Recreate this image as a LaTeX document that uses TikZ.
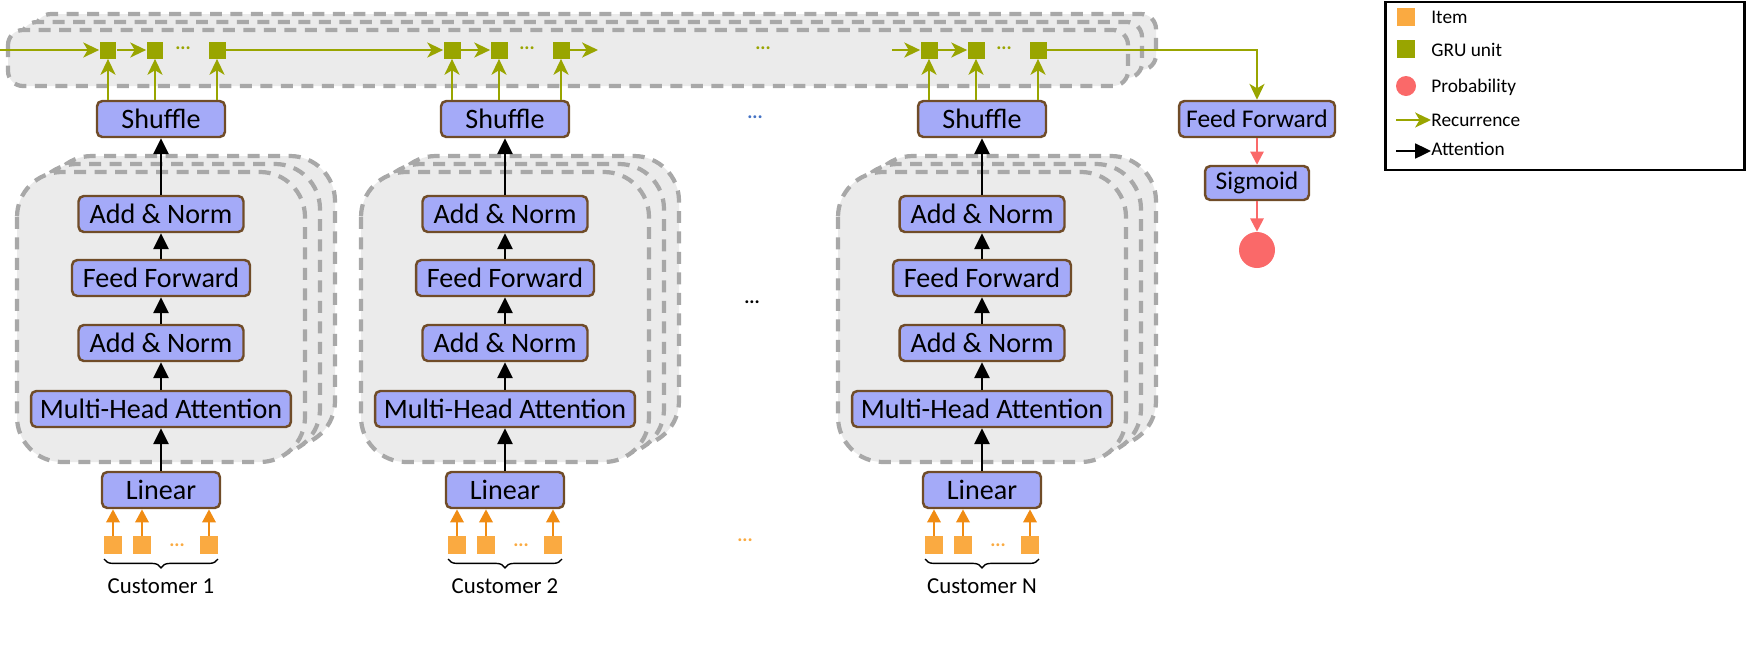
\documentclass[tikz,border=0pt]{standalone}
\usepackage{fontspec}
\setmainfont{Carlito}
\usetikzlibrary{positioning}
\usetikzlibrary{calc}
\usetikzlibrary{arrows.meta}
\usetikzlibrary{decorations.pathreplacing}

\definecolor{blkfill}{RGB}{164,170,248}
\definecolor{blkedge}{RGB}{112,76,40}
\definecolor{stackfill}{RGB}{235,235,235}
\definecolor{stackedge}{RGB}{168,168,168}
\definecolor{gruc}{RGB}{153,165,0}
\definecolor{itemc}{RGB}{250,170,65}
\definecolor{itemarr}{RGB}{240,140,20}
\definecolor{probc}{RGB}{250,105,105}
\definecolor{dotblue}{RGB}{68,114,196}

\tikzset{
	blk/.style={draw=blkedge, fill=blkfill, line width=1.4pt, rounded corners=3pt, minimum height=0.72cm, inner sep=0pt, font=\fontsize{16}{18}\selectfont},
	stackframe/.style={draw=stackedge, fill=stackfill, line width=2.4pt, dash pattern=on 0.24cm off 0.17cm, rounded corners=0.9cm},
	bandframe/.style={stackframe, rounded corners=0.3cm},
	gru/.style={fill=gruc, minimum size=0.34cm, inner sep=0pt},
	item/.style={fill=itemc, minimum size=0.36cm, inner sep=0pt},
	att/.style={-{Triangle[length=9pt,width=8.5pt]}, line width=1.4pt},
	rec/.style={-{Stealth[length=9pt,width=8.5pt,inset=2.5pt]}, draw=gruc, line width=1.5pt},
	itarr/.style={-{Triangle[length=7.5pt,width=7.5pt]}, draw=itemarr, line width=1.6pt},
	prarr/.style={-{Triangle[length=7.5pt,width=7.5pt]}, draw=probc, line width=1.2pt},
	dots/.style={inner sep=0pt, font=\fontsize{11}{11}\selectfont\bfseries},
	legtext/.style={anchor=west, inner sep=0pt, font=\fontsize{11}{13}\selectfont}
}

\begin{document}
\begin{tikzpicture}[x=0.02cm, y=-0.02cm]
	\useasboundingbox (0,0) rectangle (1749,664);
	% GRU band
	\draw[bandframe] (36,14) rectangle (1156,70);
	\draw[bandframe] (22,22) rectangle (1142,78);
	\draw[bandframe] (8,30) rectangle (1128,86);

	\foreach \c/\cx in {1/161, 2/505, N/982} {
		\draw[stackframe] (\cx-114,156) rectangle (\cx+174,446);
		\draw[stackframe] (\cx-129,164) rectangle (\cx+159,454);
		\draw[stackframe] (\cx-144,172) rectangle (\cx+144,462);
		\node[blk, minimum width=2.56cm] (sh\c) at (\cx,119) {Shuffle};
		\node[blk, minimum width=3.3cm] (an2\c) at (\cx,214) {Add \& Norm};
		\node[blk, minimum width=3.56cm] (ff\c) at (\cx,278) {Feed Forward};
		\node[blk, minimum width=3.3cm] (an1\c) at (\cx,343) {Add \& Norm};
		\node[blk, minimum width=5.2cm] (mha\c) at (\cx,409) {Multi-Head Attention};
		\node[blk, minimum width=2.36cm] (lin\c) at (\cx,490) {Linear};
		\draw[att] (lin\c) -- (mha\c); \draw[att] (mha\c) -- (an1\c); \draw[att] (an1\c) -- (ff\c);
		\draw[att] (ff\c) -- (an2\c); \draw[att] (an2\c) -- (sh\c);
		% items
		\node[item] (ia\c) at (\cx-48,545) {};
		\node[item] (ib\c) at (\cx-19,545) {};
		\node[item] (ic\c) at (\cx+48,545) {};
		\node[dots, text=itemc] (id\c) at (\cx+16,545) {...};
		\draw[itarr] (ia\c) -- (ia\c |- lin\c.south); \draw[itarr] (ib\c) -- (ib\c |- lin\c.south); \draw[itarr] (ic\c) -- (ic\c |- lin\c.south);
		\draw[decorate, decoration={brace, mirror, amplitude=5pt}, line width=0.8pt] (\cx-57,559) -- (\cx+57,559);
		\node[font=\fontsize{13}{15}\selectfont] (cu\c) at (\cx,586) {Customer \c};
		% GRU units
		\node[gru] (ga\c) at (\cx-53,50) {};
		\node[gru] (gb\c) at (\cx-6,50) {};
		\node[gru] (gc\c) at (\cx+56,50) {};
		\node[dots, text=gruc] (gd\c) at (\cx+22,48) {...};
		\draw[rec] (ga\c |- sh\c.north) -- (ga\c); \draw[rec] (gb\c |- sh\c.north) -- (gb\c); \draw[rec] (gc\c |- sh\c.north) -- (gc\c);
		\draw[rec] (ga\c) -- (gb\c);
	}

	% recurrence between customers
	\coordinate (in1) at (0,50);
	\coordinate (out2) at (598,50);
	\coordinate (inN) at (892,50);
	\draw[rec] (in1) -- (ga1);
	\draw[rec] (gc1) -- (ga2);
	\draw[rec] (gc2) -- (out2);
	\draw[rec] (inN) -- (gaN);
	\node[dots, text=gruc] (dg) at (763,48) {...};
	\node[dots, text=dotblue] (dsh) at (755,117) {...};
	\node[dots] (dmid) at (752,302) {...};
	\node[dots, text=itemc] (dit) at (745,540) {...};

	% output
	\node[blk, minimum width=3.12cm, font=\fontsize{14.5}{16}\selectfont] (ffo) at (1257,119) {Feed Forward};
	\node[blk, minimum width=2.08cm, minimum height=0.68cm, font=\fontsize{14.5}{16}\selectfont] (sig) at (1257,183) {Sigmoid};
	\node[circle, fill=probc, minimum size=0.72cm, inner sep=0pt] (prob) at (1257,250) {};
	\draw[rec] (gcN) -| (ffo);
	\draw[prarr] (ffo) -- (sig);
	\draw[prarr] (sig) -- (prob);

	% legend
	\node[draw, line width=1.5pt, minimum width=7.18cm, minimum height=3.36cm] (legend) at (1565,86) {};
	\node[item] (lit) at (1406,17) {};
	\node[legtext] (litt) at (1431,17) {Item};
	\node[gru, minimum size=0.36cm] (lgr) at (1406,49) {};
	\node[legtext] (lgrt) at (1431,50) {GRU unit};
	\node[circle, fill=probc, minimum size=0.4cm, inner sep=0pt] (lpr) at (1406,86) {};
	\node[legtext] (lprt) at (1431,87) {Probability};
	\coordinate (lre) at (1396,120);
	\node[legtext] (lret) at (1431,120) {Recurrence};
	\draw[rec, line width=1.2pt] (lre) -- (lret.west);
	\coordinate (lat) at (1396,151);
	\node[legtext] (latt) at (1431,149) {Attention};
	\draw[att, line width=1.1pt] (lat) -- (lat -| latt.west);
\end{tikzpicture}
\end{document}
